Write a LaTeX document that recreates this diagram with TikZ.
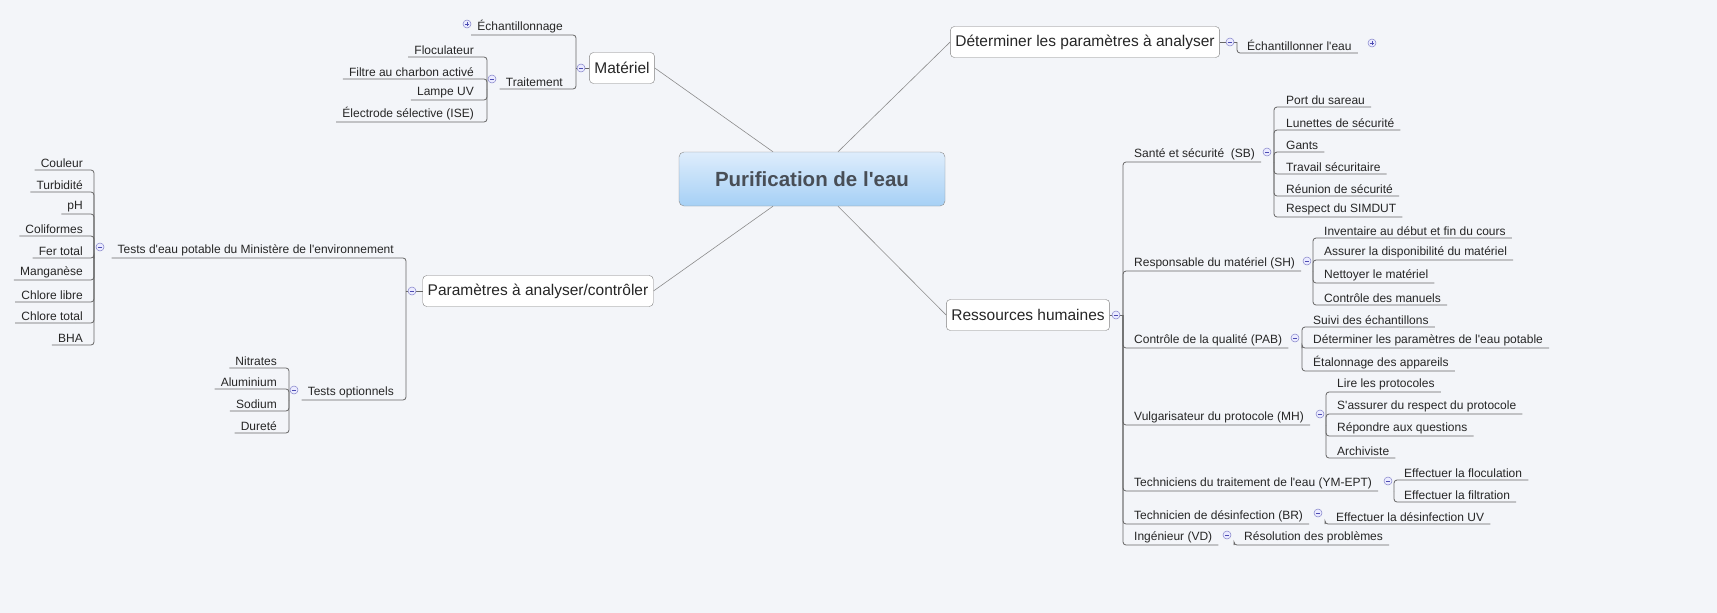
\documentclass[tikz,border=0pt]{standalone}
\usepackage{fontspec}
\setmainfont{Liberation Sans}[Ligatures=TeXOff]
\begin{document}
\begin{tikzpicture}[x=1pt,y=-1pt,
 lbl/.style={font=\fontsize{12}{14}\selectfont, inner sep=2pt, text=black!85},
 ln/.style={draw=black!60, line width=0.8pt, rounded corners=3pt},
 mainbox/.style={draw=black!50, fill=white, rounded corners=4pt, font=\fontsize{15.5}{18}\selectfont, inner xsep=5pt, minimum height=31pt, text=black!85},
 spoke/.style={draw=black!45, line width=0.6pt},
 mc/.style={circle, draw=blue!40!gray!70, fill=blue!8, inner sep=0pt, minimum size=8pt, line width=0.5pt}]
\fill[fill={rgb,255:red,243;green,245;blue,249}] (0,0) rectangle (1717,613);
\useasboundingbox (0,0) rectangle (1717,613);
\newcommand\rleaf[6]{\node[lbl,anchor=south west] (#1) at (#4,#5) {#6}; \draw[ln] (#2,#3) |- ([xshift=4pt]#1.south east);}
\newcommand\lleaf[6]{\node[lbl,anchor=south east] (#1) at (#4,#5) {#6}; \draw[ln] (#2,#3) |- ([xshift=-4pt]#1.south west);}
\newcommand\mn[2]{\node[mc] at (#1,#2) {}; \draw[blue!40!gray, line width=0.6pt] (#1-2.2,#2) -- (#1+2.2,#2);}
\newcommand\pl[2]{\node[mc] at (#1,#2) {}; \draw[blue!40!gray, line width=0.6pt] (#1-2.2,#2) -- (#1+2.2,#2) (#1,#2-2.2) -- (#1,#2+2.2);}
% centre
\node[draw=black!45, rounded corners=5pt, top color={rgb,255:red,222;green,237;blue,252}, bottom color={rgb,255:red,166;green,208;blue,245}, minimum width=266pt, minimum height=54pt, font=\fontsize{20.5}{24}\selectfont\bfseries, text={rgb,255:red,72;green,78;blue,86}] (c) at (812,179) {Purification de l'eau};
\node[mainbox] (mat) at (622,68) {Matériel};
\node[mainbox] (det) at (1085,42) {Déterminer les paramètres à analyser};
\node[mainbox] (res) at (1028,315) {Ressources humaines};
\node[mainbox] (par) at (538,291) {Paramètres à analyser/contrôler};
\draw[spoke] ([xshift=-39pt]c.north) -- (mat.east);
\draw[spoke] ([xshift=26pt]c.north) -- (det.west);
\draw[spoke] ([xshift=26pt]c.south) -- (res.west);
\draw[spoke] ([xshift=-39pt]c.south) -- (par.east);
% Matériel
\draw[ln] (mat.west) -- (576,68);
\lleaf{ech}{576}{68}{565}{35}{Échantillonnage}
\lleaf{tra}{576}{68}{565}{89}{Traitement}
\lleaf{flo}{487}{89}{476}{57}{Floculateur}
\lleaf{fil}{487}{89}{476}{79}{Filtre au charbon activé}
\lleaf{lam}{487}{89}{476}{100}{Lampe UV}
\lleaf{ele}{487}{89}{476}{122}{Électrode sélective (ISE)}
% Déterminer
\draw[ln] (det.east) -- (1237,42);
\rleaf{echl}{1237}{42}{1245}{53}{Échantillonner l'eau}
% Ressources
\draw[ln] (res.east) -- (1123,315);
\rleaf{san}{1123}{315}{1132}{162}{Santé et sécurité \ (SB)}
\rleaf{s1}{1274}{162}{1284}{107}{Port du sareau}
\rleaf{s2}{1274}{162}{1284}{130}{Lunettes de sécurité}
\rleaf{s3}{1274}{162}{1284}{152}{Gants}
\rleaf{s4}{1274}{162}{1284}{174}{Travail sécuritaire}
\rleaf{s5}{1274}{162}{1284}{196}{Réunion de sécurité}
\rleaf{s6}{1274}{162}{1284}{217}{Respect du SIMDUT}
\rleaf{rm}{1123}{315}{1132}{271}{Responsable du matériel (SH)}
\rleaf{r1}{1313}{271}{1322}{238}{Inventaire au début et fin du cours}
\rleaf{r2}{1313}{271}{1322}{260}{Assurer la disponibilité du matériel}
\rleaf{r3}{1313}{271}{1322}{283}{Nettoyer le matériel}
\rleaf{r4}{1313}{271}{1322}{305}{Contrôle des manuels}
\rleaf{cq}{1123}{315}{1132}{348}{Contrôle de la qualité (PAB)}
\rleaf{q1}{1302}{348}{1311}{327}{Suivi des échantillons}
\rleaf{q2}{1302}{348}{1311}{348}{Déterminer les paramètres de l'eau potable}
\rleaf{q3}{1302}{348}{1311}{371}{Étalonnage des appareils}
\rleaf{vu}{1123}{315}{1132}{425}{Vulgarisateur du protocole (MH)}
\rleaf{v1}{1326}{425}{1335}{392}{Lire les protocoles}
\rleaf{v2}{1326}{425}{1335}{414}{S'assurer du respect du protocole}
\rleaf{v3}{1326}{425}{1335}{436}{Répondre aux questions}
\rleaf{v4}{1326}{425}{1335}{458}{Archiviste}
\rleaf{te}{1123}{315}{1132}{491}{Techniciens du traitement de l'eau (YM-EPT)}
\rleaf{t1}{1394}{491}{1402}{480}{Effectuer la floculation}
\rleaf{t2}{1394}{491}{1402}{502}{Effectuer la filtration}
\rleaf{td}{1123}{315}{1132}{524}{Technicien de désinfection (BR)}
\rleaf{d1}{1325}{524}{1334}{524}{Effectuer la désinfection UV}
\rleaf{ing}{1123}{315}{1132}{545}{Ingénieur (VD)}
\rleaf{i1}{1234}{545}{1242}{545}{Résolution des problèmes}
% Paramètres
\draw[ln] (par.west) -- (406,291);
\lleaf{tep}{406}{291}{396}{258}{Tests d'eau potable du Ministère de l'environnement}
\lleaf{p1}{94}{258}{85}{170}{Couleur}
\lleaf{p2}{94}{258}{85}{192}{Turbidité}
\lleaf{p3}{94}{258}{85}{214}{pH}
\lleaf{p4}{94}{258}{85}{236}{Coliformes}
\lleaf{p5}{94}{258}{85}{258}{Fer total}
\lleaf{p6}{94}{258}{85}{280}{Manganèse}
\lleaf{p7}{94}{258}{85}{302}{Chlore libre}
\lleaf{p8}{94}{258}{85}{323}{Chlore total}
\lleaf{p9}{94}{258}{85}{345}{BHA}
\lleaf{top}{406}{291}{396}{400}{Tests optionnels}
\lleaf{o1}{289}{400}{279}{368}{Nitrates}
\lleaf{o2}{289}{400}{279}{389}{Aluminium}
\lleaf{o3}{289}{400}{279}{411}{Sodium}
\lleaf{o4}{289}{400}{279}{433}{Dureté}
% expand/collapse markers
\mn{581}{68} \mn{492}{79} \pl{467}{24}
\mn{1230}{42} \pl{1372}{43}
\mn{1116}{315} \mn{1267}{152} \mn{1307}{261} \mn{1295}{338} \mn{1320}{414} \mn{1388}{481} \mn{1318}{513} \mn{1227}{535}
\mn{412}{291} \mn{100}{247} \mn{294}{390}
\end{tikzpicture}
\end{document}
